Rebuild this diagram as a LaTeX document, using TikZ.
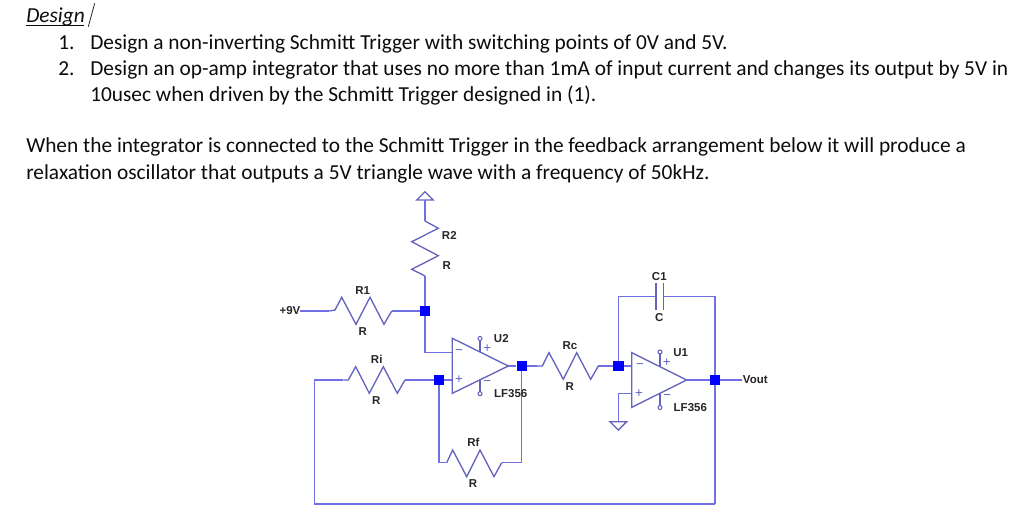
\documentclass[tikz,border=0pt]{standalone}
\usepackage{fontspec}
\setmainfont{Carlito}
\newfontfamily\lbl{Liberation Sans}
\usetikzlibrary{calc}
\definecolor{wirec}{RGB}{112,112,228}
\definecolor{symc}{RGB}{100,100,190}
\definecolor{txtc}{RGB}{12,12,12}
\tikzset{
  x=0.75pt,y=-0.75pt,
  wire/.style={draw=wirec,line width=1pt,line join=miter},
  sym/.style={draw=symc,line width=1pt,line join=miter},
  junc/.style={fill=blue,draw=none,minimum size=7.8pt,inner sep=0pt,rectangle},
  para/.style={anchor=base west,inner sep=0pt,font=\fontsize{16.02pt}{18pt}\selectfont,text=txtc},
  lab/.style={inner sep=0pt,font=\lbl\bfseries\fontsize{8.6pt}{9pt}\selectfont,text=black!85},
  sgn/.style={inner sep=0pt,text=symc,font=\lbl\fontsize{10pt}{10pt}\selectfont},
  pin/.style={circle,draw=symc,line width=0.8pt,minimum size=3pt,inner sep=0pt,fill=white},
}
\begin{document}
\begin{tikzpicture}
\useasboundingbox[fill=white] (0,0) rectangle (1024,517);
% text
\node[para] (t0) at (26,22.3) {\textit{Design}};
\draw[txtc,line width=0.7pt] (t0.base west |- 0,25) -- (84,25);
\draw[black!85,line width=0.6pt] (88.3,26.7) -- (94.7,3.3);
\node[para] (n1) at (58,49.5) {1.};
\node[para] (t1) at (90,49.5) {Design a non-inverting Schmitt Trigger with switching points of 0V and 5V.};
\node[para] (n2) at (58,75.5) {2.};
\node[para] (t2) at (90,75.5) {Design an op-amp integrator that uses no more than 1mA of input current and changes its output by 5V in};
\node[para] (t3) at (90,101.5) {10usec when driven by the Schmitt Trigger designed in (1).};
\node[para] (t4) at (26,152) {When the integrator is connected to the Schmitt Trigger in the feedback arrangement below it will produce a};
\node[para] (t5) at (26,179) {relaxation oscillator that outputs a 5V triangle wave with a frequency of 50kHz.};

% named points
\coordinate (vcc) at (300,311);
\coordinate (gndA) at (425,200);
\coordinate (gndB) at (618.3,421.7);
\coordinate (fbL) at (314.3,380);
\coordinate (fbBL) at (314.3,504);
\coordinate (fbBR) at (715,504);
\coordinate (capL) at (618.3,296.7);
\coordinate (capR) at (715,296.7);
\coordinate (plateA) at (656,296.7);
\coordinate (plateB) at (663.3,296.7);
\coordinate (voutE) at (741.7,380);
\coordinate (rfL) at (439,462.7);
\coordinate (rfR) at (521.7,462.7);
\coordinate (u2m) at (452.3,352.3);
\coordinate (u2p) at (452.3,380);
\coordinate (u2o) at (508.3,366);
\coordinate (u1m) at (631.7,366);
\coordinate (u1p) at (631.7,393.3);
\coordinate (u1o) at (686.7,380);

% ground symbols
\draw[sym] (425,191.7) -- (433.3,200) -- (416.7,200) -- cycle;
\draw[sym] (618.3,430) -- (626.7,421.7) -- (610,421.7) -- cycle;

% resistors
\draw[sym] (425,221) -- (438.3,228.3) -- (411.7,241.7) -- (438.3,255.7) -- (411.7,269.3) -- (425,276);
\draw[sym] (329.3,311) -- (335,310) -- (341.7,297.3) -- (356,324.3) -- (370,297.3) -- (384,324.3) -- (391.7,311);
\draw[sym] (343.3,380) -- (348.3,380) -- (355.7,366.7) -- (369.3,393.3) -- (383.3,366.7) -- (397.3,393.3) -- (405,380);
\draw[sym] (446.7,462.7) -- (452.7,450) -- (466.7,476.7) -- (480,450) -- (494,476.7) -- (501.7,462.7);
\draw[sym] (536.7,366) -- (542.3,366) -- (549,352.7) -- (563.3,379.3) -- (576.7,352.7) -- (590.7,379.3) -- (598.3,366);

% junctions and wires
\node[junc] (j1) at (425,311) {};
\node[junc] (j2) at (439,380) {};
\node[junc] (j3) at (521.7,366) {};
\node[junc] (j4) at (618.3,366) {};
\node[junc] (j5) at (715,380) {};
\draw[wire] (gndA) -- (425,221);
\draw[wire] (425,276) -- (j1);
\draw[wire] (vcc) -- (329.3,311);
\draw[wire] (391.7,311) -- (j1);
\draw[wire] (j1) |- (u2m);
\draw[wire] (fbBR) -- (fbBL) -- (fbL) -- (343.3,380);
\draw[wire] (405,380) -- (j2);
\draw[wire] (j2) -- (u2p);
\draw[wire] (j2) |- (446.7,462.7);
\draw[wire] (501.7,462.7) -- (rfR) -- (j3);
\draw[wire] (u2o) -- (j3);
\draw[wire] (j3) -- (536.7,366);
\draw[wire] (598.3,366) -- (j4);
\draw[wire] (j4) -- (u1m);
\draw[wire] (j4) |- (plateA);
\draw[wire] (plateB) -- (capR) -- (j5);
\draw[wire] (j5) -- (fbBR);
\draw[wire] (u1o) -- (j5);
\draw[wire] (j5) -- (voutE);
\draw[wire] (u1p) -| (gndB);

% capacitor
\draw[sym] (656,283.3) -- (656,310);
\draw[sym] (663.3,283.3) -- (663.3,310);

% op-amps
\draw[sym] (452.3,338.3) -- (u2o) -- (452.3,393.3) -- cycle;
\draw[sym] (631.7,352.7) -- (u1o) -- (631.7,407.3) -- cycle;
\draw[sym] (480,352) -- (480,340);
\draw[sym] (480,380) -- (480,392);
\draw[sym] (660,366.5) -- (660,353.5);
\draw[sym] (660,394) -- (660,406);
\node[pin] (p1) at (480,338.5) {};
\node[pin] (p2) at (480,393.7) {};
\node[pin] (p3) at (660,352) {};
\node[pin] (p4) at (660,407.5) {};
\node[sgn] (s1) at (459,352.3) {−};
\node[sgn] (s2) at (459,380) {+};
\node[sgn] (s3) at (487.3,348.7) {+};
\node[sgn] (s4) at (487.3,382.7) {−};
\node[sgn] (s5) at (640,366) {−};
\node[sgn] (s6) at (639,394) {+};
\node[sgn] (s7) at (666.7,362.7) {+};
\node[sgn] (s8) at (667.3,396.7) {−};

% labels
\node[lab] (l1) at (449.3,235) {R2};
\node[lab] (l2) at (446.7,266) {R};
\node[lab] (l3) at (362.7,290.7) {R1};
\node[lab] (l4) at (362.7,331.3) {R};
\node[lab] (l5) at (290,311) {+9V};
\node[lab] (l6) at (501.3,338.3) {U2};
\node[lab] (l7) at (510.7,394) {LF356};
\node[lab] (l8) at (376.7,359.3) {Ri};
\node[lab] (l9) at (376.3,400.3) {R};
\node[lab] (l10) at (473.3,442.7) {Rf};
\node[lab] (l11) at (473,483.3) {R};
\node[lab] (l12) at (659.3,276.3) {C1};
\node[lab] (l13) at (659.3,317.3) {C};
\node[lab] (l14) at (570,345.3) {Rc};
\node[lab] (l15) at (569.7,386.7) {R};
\node[lab] (l16) at (680.7,352.3) {U1};
\node[lab] (l17) at (690.3,407.7) {LF356};
\node[lab] (l18) at (755.3,380) {Vout};
\end{tikzpicture}
\end{document}
